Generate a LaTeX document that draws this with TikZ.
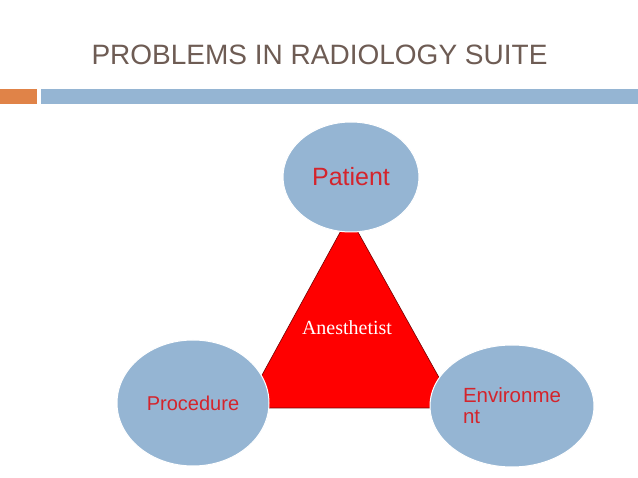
\documentclass[tikz,border=0pt]{standalone}
\usepackage{fontspec}
\setmainfont{Liberation Sans}
\newfontfamily\timesfont{Liberation Serif}
\usetikzlibrary{shapes.geometric}

\definecolor{titlegray}{RGB}{110,92,84}
\definecolor{barorange}{RGB}{224,131,72}
\definecolor{barblue}{RGB}{149,181,211}
\definecolor{blobblue}{RGB}{149,181,211}
\definecolor{labelred}{RGB}{212,36,44}

\begin{document}
\begin{tikzpicture}[x=1pt,y=-1pt,
  blob/.style={ellipse,fill=blobblue,draw=white,line width=1pt,inner sep=0pt,text=labelred}]
  \useasboundingbox[fill=white] (0,0) rectangle (638,478);
  \node[font=\fontsize{28}{34}\selectfont,text=titlegray,anchor=base] (title) at (319.5,65) {PROBLEMS IN RADIOLOGY SUITE};
  \fill[barorange] (0,89) rectangle (37,104);
  \fill[barblue] (41,89) rectangle (638,104);
  % triangle first, the ellipses sit on its corners
  \draw[fill=red,draw=red!45!black,line width=0.6pt] (244,408) -- (349,216) -- (456,408) -- cycle;
  \node[font=\timesfont\fontsize{20}{24}\selectfont,text=white,anchor=base] (anest) at (347,335) {Anesthetist};
  \node[blob,minimum width=136,minimum height=110,font=\fontsize{25}{30}\selectfont] (patient) at (351,177) {Patient};
  \node[blob,minimum width=152,minimum height=126,font=\fontsize{20}{24}\selectfont] (proc) at (193,403) {Procedure};
  \node[blob,minimum width=164,minimum height=122,align=left,font=\fontsize{20.5}{21}\selectfont] (env) at (512,406) {Environme\\nt};
\end{tikzpicture}
\end{document}
